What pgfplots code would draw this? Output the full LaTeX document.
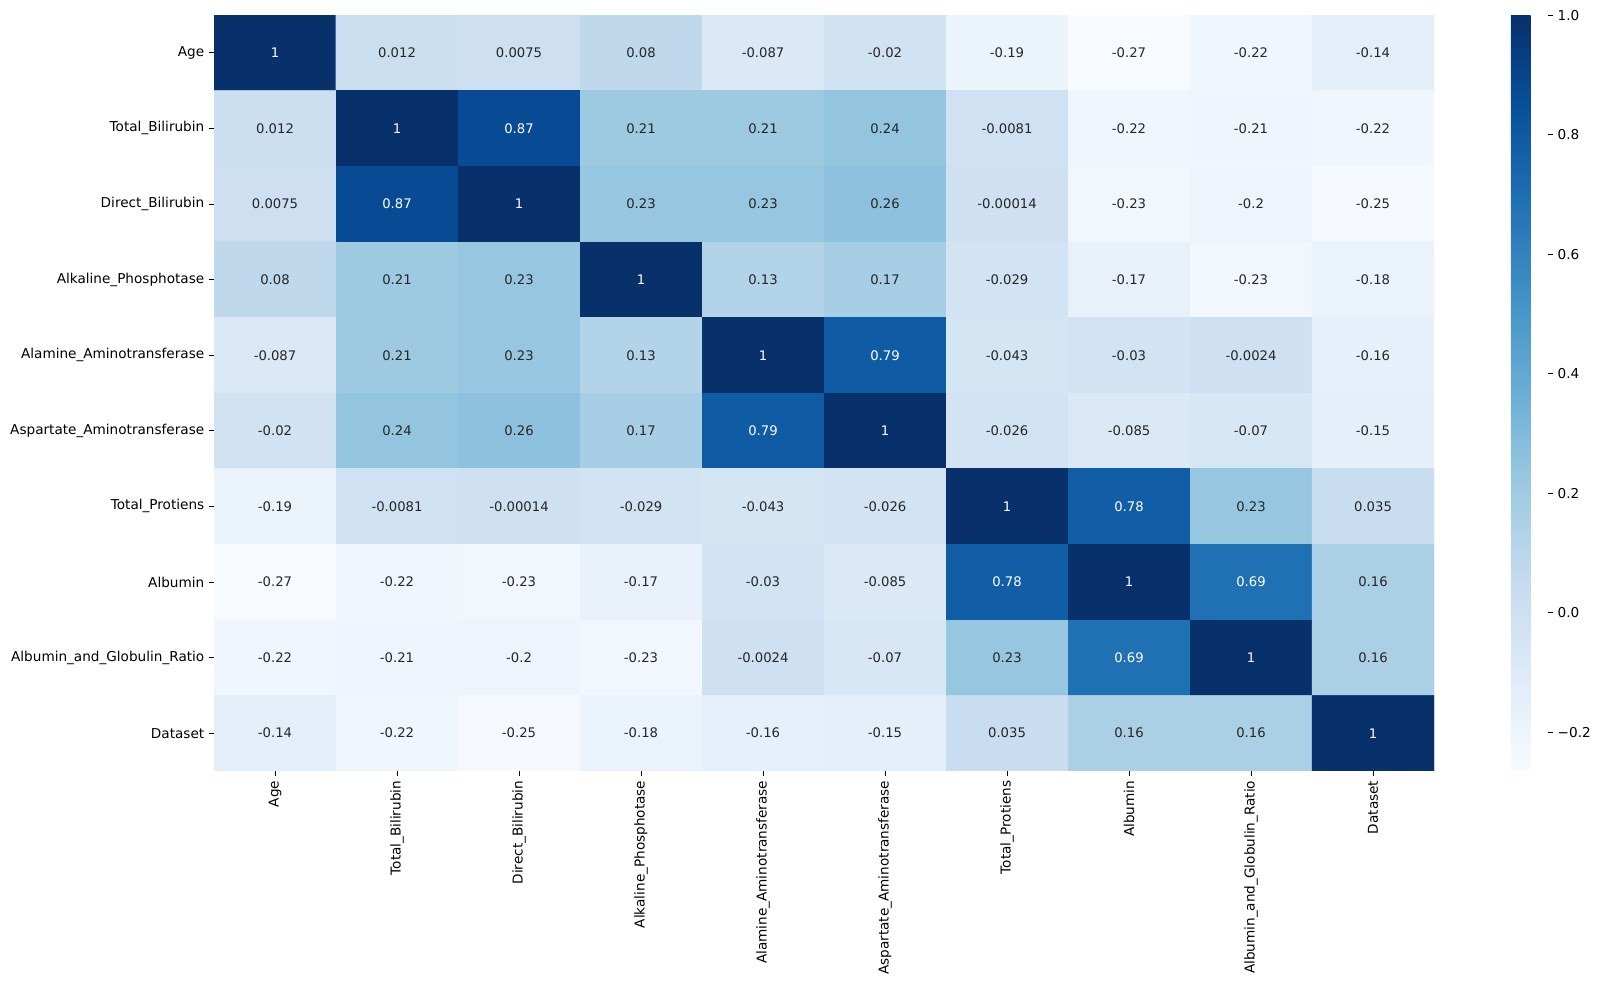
\documentclass[border=0pt]{standalone}
\usepackage{fontspec}
\setmainfont{DejaVu Sans}
\usepackage{pgfplots}
\usepackage{pgfplotstable}
\pgfplotsset{compat=1.18}

% matplotlib "Blues"
\pgfplotsset{colormap={blues}{rgb255=(247,251,255) rgb255=(222,235,247) rgb255=(198,219,239)
  rgb255=(158,202,225) rgb255=(107,174,214) rgb255=(66,146,198) rgb255=(33,113,181)
  rgb255=(8,81,156) rgb255=(8,48,107)}}

% correlation matrix, row by row (y = row, x = column)
\pgfplotstableread{
x y c
0 0 1
1 0 0.012
2 0 0.0075
3 0 0.08
4 0 -0.087
5 0 -0.02
6 0 -0.19
7 0 -0.27
8 0 -0.22
9 0 -0.14
0 1 0.012
1 1 1
2 1 0.87
3 1 0.21
4 1 0.21
5 1 0.24
6 1 -0.0081
7 1 -0.22
8 1 -0.21
9 1 -0.22
0 2 0.0075
1 2 0.87
2 2 1
3 2 0.23
4 2 0.23
5 2 0.26
6 2 -0.00014
7 2 -0.23
8 2 -0.2
9 2 -0.25
0 3 0.08
1 3 0.21
2 3 0.23
3 3 1
4 3 0.13
5 3 0.17
6 3 -0.029
7 3 -0.17
8 3 -0.23
9 3 -0.18
0 4 -0.087
1 4 0.21
2 4 0.23
3 4 0.13
4 4 1
5 4 0.79
6 4 -0.043
7 4 -0.03
8 4 -0.0024
9 4 -0.16
0 5 -0.02
1 5 0.24
2 5 0.26
3 5 0.17
4 5 0.79
5 5 1
6 5 -0.026
7 5 -0.085
8 5 -0.07
9 5 -0.15
0 6 -0.19
1 6 -0.0081
2 6 -0.00014
3 6 -0.029
4 6 -0.043
5 6 -0.026
6 6 1
7 6 0.78
8 6 0.23
9 6 0.035
0 7 -0.27
1 7 -0.22
2 7 -0.23
3 7 -0.17
4 7 -0.03
5 7 -0.085
6 7 0.78
7 7 1
8 7 0.69
9 7 0.16
0 8 -0.22
1 8 -0.21
2 8 -0.2
3 8 -0.23
4 8 -0.0024
5 8 -0.07
6 8 0.23
7 8 0.69
8 8 1
9 8 0.16
0 9 -0.14
1 9 -0.22
2 9 -0.25
3 9 -0.18
4 9 -0.16
5 9 -0.15
6 9 0.035
7 9 0.16
8 9 0.16
9 9 1
}\corrtab

\newcommand{\lblfont}{\fontsize{9.8}{11}\selectfont}
\newcommand{\annfont}{\fontsize{9.5}{11}\selectfont}

\pgfplotsset{
    annot/.style={
        only marks, mark=none,
        point meta=explicit symbolic,
        nodes near coords,
        nodes near coords align=center,
        every node near coord/.append style={font=\annfont, anchor=center, text=#1},
    }
}

\begin{document}
\begin{tikzpicture}
\begin{axis}[
    at={(0,0)}, anchor=north west,
    scale only axis,
    width=878.4pt, height=544.3pt,
    xmin=-0.5, xmax=9.5, ymin=-0.5, ymax=9.5,
    y dir=reverse,
    enlargelimits=false,
    axis line style={draw=none},
    tick align=outside, tick pos=left,
    major tick length=3.5pt,
    tick style={black, line width=0.6pt},
    xtick={0,...,9}, ytick={0,...,9},
    xticklabels={Age, Total\_Bilirubin, Direct\_Bilirubin, Alkaline\_Phosphotase,
        Alamine\_Aminotransferase, Aspartate\_Aminotransferase, Total\_Protiens,
        Albumin, Albumin\_and\_Globulin\_Ratio, Dataset},
    yticklabels={Age, Total\_Bilirubin, Direct\_Bilirubin, Alkaline\_Phosphotase,
        Alamine\_Aminotransferase, Aspartate\_Aminotransferase, Total\_Protiens,
        Albumin, Albumin\_and\_Globulin\_Ratio, Dataset},
    tick label style={font=\lblfont},
    x tick label style={rotate=90, anchor=east},
    colormap name=blues,
    point meta min=-0.265, point meta max=1.0005,
    colorbar right,
    colorbar shift/.style={xshift=55.4pt},
    colorbar style={
        at={(parent axis.north east)}, anchor=north west,
        scale only axis,
        width=26.6pt, height=544.3pt,
        axis line style={draw=none},
        ytick={-0.2,0,0.2,0.4,0.6,0.8,1},
        yticklabels={{−0.2},{0.0},{0.2},{0.4},{0.6},{0.8},{1.0}},
        ytick pos=right, yticklabel pos=right,
        tick align=outside,
        major tick length=3.5pt,
        ytick style={black, line width=0.6pt},
        yticklabel style={font=\lblfont, anchor=west},
    },
]
\addplot[matrix plot*, mesh/cols=10, point meta=\thisrow{c}] table[x=x, y=y] {\corrtab};
% annotations: white on dark cells, dark grey on light cells
\addplot[annot=black!85, restrict expr to domain={\thisrow{c}}{-1:0.5}]
    table[x=x, y=y, meta=c] {\corrtab};
\addplot[annot=white, restrict expr to domain={\thisrow{c}}{0.5:2}]
    table[x=x, y=y, meta=c] {\corrtab};
\end{axis}
\path (-154.1pt,-699.1pt) rectangle (997.9pt,10.8pt);
\end{tikzpicture}
\end{document}
